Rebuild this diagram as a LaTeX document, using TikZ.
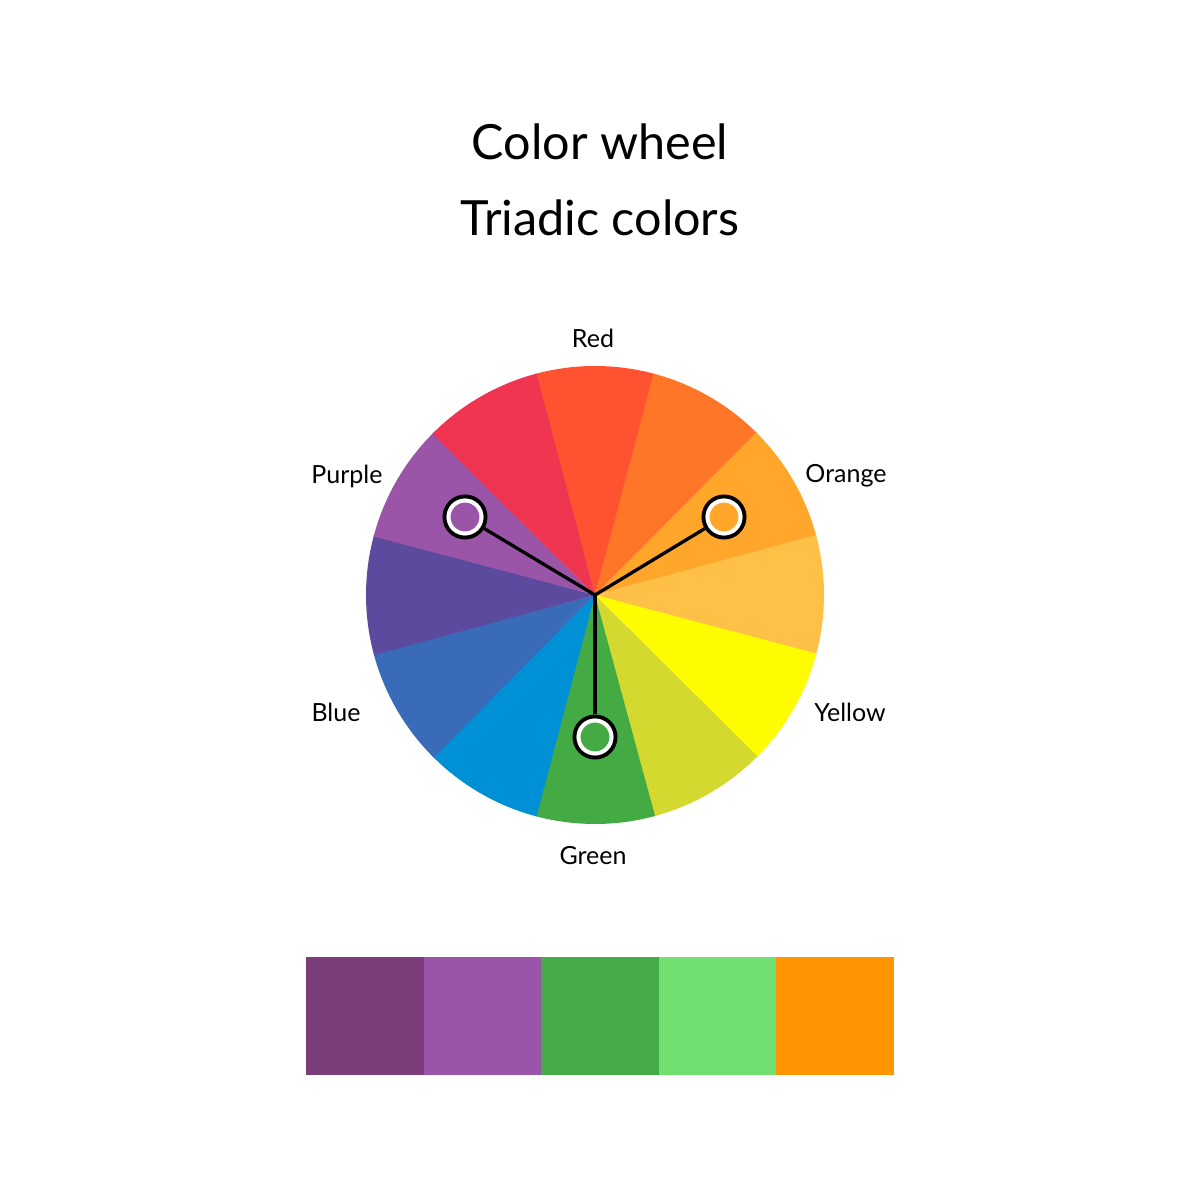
\documentclass[tikz,border=0pt]{standalone}
\usepackage{fontspec}
\setmainfont{Lato}
\definecolor{cA}{HTML}{FF5230}
\definecolor{cB}{HTML}{FF7629}
\definecolor{cC}{HTML}{FFA62B}
\definecolor{cD}{HTML}{FFC048}
\definecolor{cE}{HTML}{FFFC00}
\definecolor{cF}{HTML}{D4D92F}
\definecolor{cG}{HTML}{44AA44}
\definecolor{cH}{HTML}{0090D6}
\definecolor{cI}{HTML}{3A6BB8}
\definecolor{cJ}{HTML}{5C4A9E}
\definecolor{cK}{HTML}{9B55A8}
\definecolor{cL}{HTML}{F03550}
\definecolor{pA}{HTML}{7A3D7A}
\definecolor{pB}{HTML}{9B55A8}
\definecolor{pC}{HTML}{44AA4A}
\definecolor{pD}{HTML}{72E070}
\definecolor{pE}{HTML}{FF9500}
\begin{document}
\begin{tikzpicture}[x=1pt,y=1pt,
  lbl/.style={font=\fontsize{25}{30}\selectfont, text=black, inner sep=0pt},
  ttl/.style={font=\fontsize{48.5}{56}\selectfont, text=black, inner sep=0pt},
  marker/.style={circle, draw=black, line width=4pt, minimum size=41pt, inner sep=0pt},
  spoke/.style={draw=black, line width=3.3pt},
  swatch/.style={draw=none, minimum width=117.5pt, minimum height=118pt, inner sep=0pt, outer sep=0pt}]
\useasboundingbox[fill=white] (0,0) rectangle (1200,1200);
\coordinate (c) at (595,605);
\foreach \ang/\col in {90/cA,60/cB,30/cC,0/cD,-30/cE,-60/cF,-90/cG,-120/cH,-150/cI,180/cJ,150/cK,120/cL}{
  \fill[\col] (595,605) -- +(\ang-15.2:229) arc[start angle=\ang-15.2, end angle=\ang+15.2, radius=229] -- cycle;
}
% markers
\node[marker, fill=cK] (mp) at (465,683) {};
\node[marker, fill=cC] (mo) at (724,683) {};
\node[marker, fill=cG] (mg) at (595,463) {};
\foreach \m in {mp,mo,mg}{
  \draw[white, line width=4pt] (\m.center) circle (16.5pt);
}
\draw[spoke] (c) -- (mp);
\draw[spoke] (c) -- (mo);
\draw[spoke] (c) -- (mg);
% labels
\node[lbl] (red) at (593,862) {Red};
\node[lbl] (orange) at (846,724) {Orange};
\node[lbl] (yellow) at (850,488) {Yellow};
\node[lbl] (green) at (593,344) {Green};
\node[lbl] (blue) at (336,488) {Blue};
\node[lbl] (purple) at (347,724) {Purple};
% title
\node[ttl] (t1) at (600,1058) {Color wheel};
\node[ttl] (t2) at (600,982) {Triadic colors};
% palette
\node[swatch, fill=pA, anchor=south west] (s1) at (306,125) {};
\node[swatch, fill=pB, anchor=west] (s2) at (s1.east) {};
\node[swatch, fill=pC, anchor=west] (s3) at (s2.east) {};
\node[swatch, fill=pD, anchor=west] (s4) at (s3.east) {};
\node[swatch, fill=pE, anchor=west] (s5) at (s4.east) {};
\end{tikzpicture}
\end{document}
